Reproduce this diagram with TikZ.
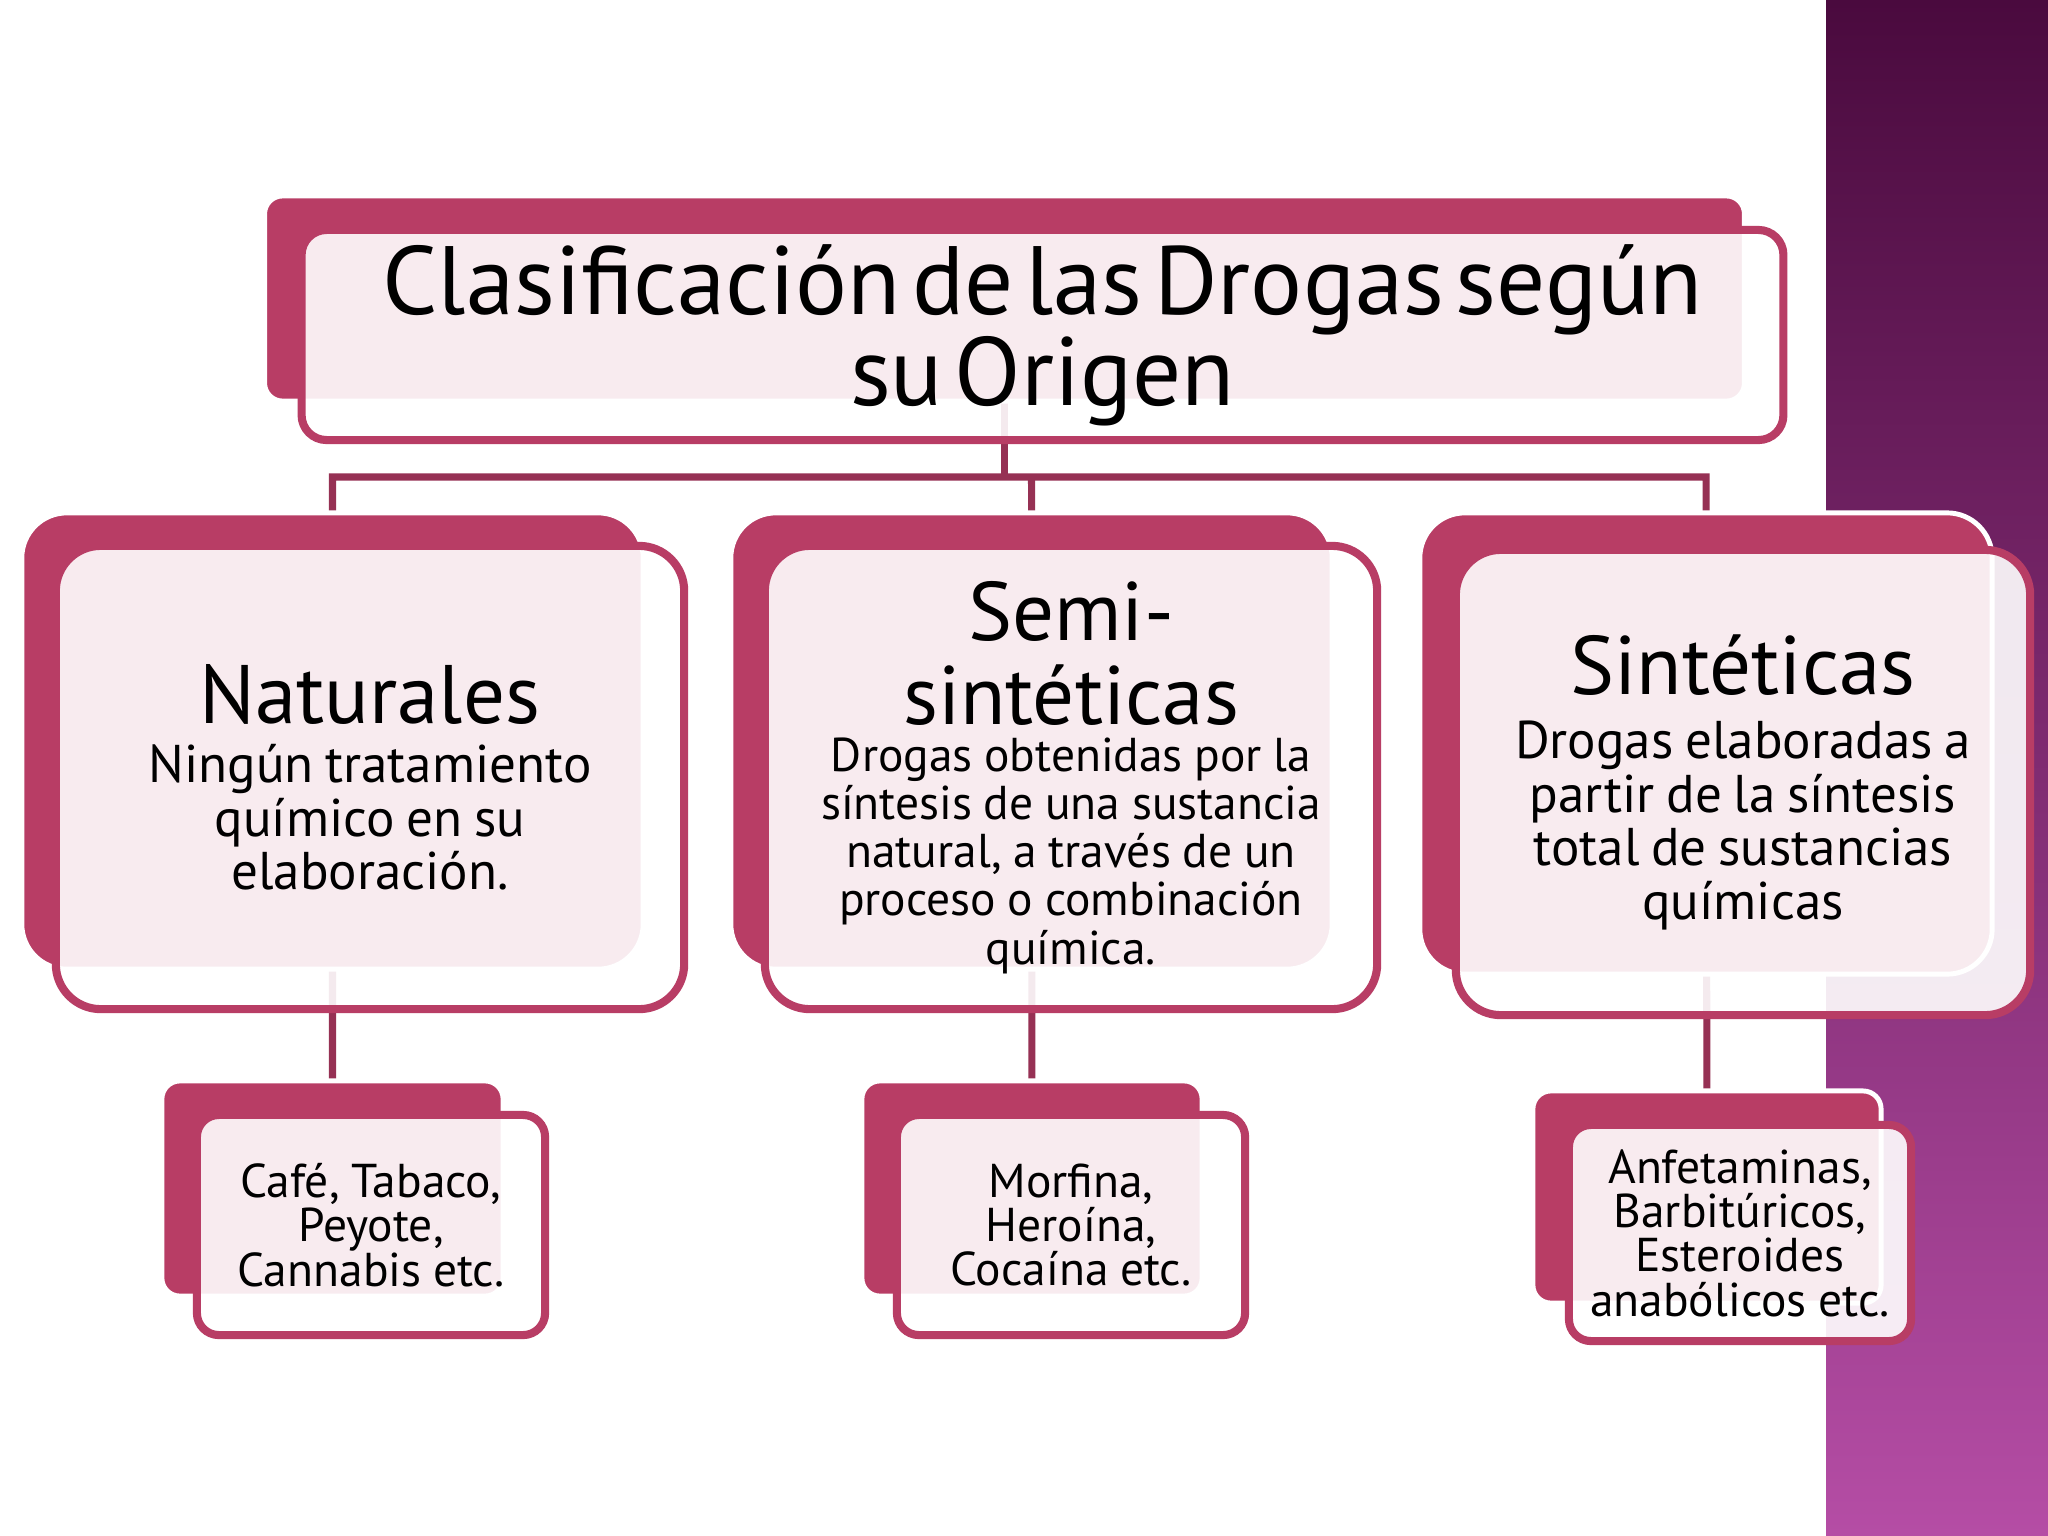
\documentclass[tikz,border=0pt]{standalone}
\usepackage{fontspec}
\setmainfont{PT Sans}[WordSpace=1.5]
\usepackage{tikz}
\usetikzlibrary{backgrounds}
\definecolor{drugpink}{HTML}{B83D65}
\definecolor{linkred}{HTML}{963154}
\definecolor{bandtop}{HTML}{4A0A3E}
\definecolor{bandmid}{HTML}{7E2C73}
\definecolor{bandbot}{HTML}{B54DA5}
\newcommand{\drugtitle}{\fontsize{27.6}{25.9}\selectfont}
\newcommand{\drughead}{\fontsize{23.6}{23.9}\selectfont}
\newcommand{\drugbody}{\fontsize{15.1}{15.2}\selectfont}
\newcommand{\drugsmall}{\fontsize{13.5}{13.7}\selectfont}
\newcommand{\drugleaf}{\fontsize{13.5}{12.6}\selectfont}
\setlength{\lineskiplimit}{-6pt}
\tikzset{
    back box/.style={
        fill=drugpink,draw=white,line width=1.4pt,inner sep=0pt
    },
    front box/.style={
        draw=drugpink,line width=2.3pt,
        fill=white,fill opacity=0.9,text opacity=1,
        align=center,inner sep=0pt
    },
    link/.style={draw=linkred,line width=2pt}
}

\begin{document}
\begin{tikzpicture}[x=0.01cm,y=-0.01cm]
\useasboundingbox (0,0) rectangle (2048,1536);
% title
\node[back box,rounded corners=0.18cm,minimum width=14.79cm,minimum height=2.05cm] (tback) at (1004.5,298.5) {};
\node[front box,rounded corners=0.25cm,minimum width=14.81cm,minimum height=2.10cm,text width=14cm] (title) at (1042.5,335)
    {\drugtitle Clasificación de las Drogas según\\ su Origen\par};
% second row
\node[back box,rounded corners=0.45cm,minimum width=6.21cm,minimum height=4.56cm] (nback) at (332.5,741) {};
\node[front box,rounded corners=0.45cm,minimum width=6.28cm,minimum height=4.63cm,text width=5.9cm] (nat) at (370,777.5)
    {{\drughead Naturales\par}\vspace{1.5pt}\drugbody Ningún tratamiento\\ químico en su\\ elaboración.\par};
\node[back box,rounded corners=0.45cm,minimum width=6.01cm,minimum height=4.56cm] (sback) at (1031.5,741) {};
\node[front box,rounded corners=0.45cm,minimum width=6.12cm,minimum height=4.63cm,text width=5.9cm] (semi) at (1071,777.5)
    {{\drughead Semi-\\ sintéticas\par}\vspace{-0.4pt}\drugsmall Drogas obtenidas por la\\ síntesis de una sustancia\\ natural, a través de un\\ proceso o combinación\\ química.\par};
\node[back box,rounded corners=0.45cm,minimum width=5.72cm,minimum height=4.61cm] (iback) at (1706,743.5) {};
\node[front box,rounded corners=0.45cm,minimum width=5.74cm,minimum height=4.65cm,text width=5.5cm] (sint) at (1743,782.5)
    {{\drughead Sintéticas\par}\vspace{3pt}\drugbody Drogas elaboradas a\\ partir de la síntesis\\ total de sustancias\\ químicas\par};
% third row
\node[back box,rounded corners=0.18cm,minimum width=3.41cm,minimum height=2.15cm] (cback) at (332.5,1188.5) {};
\node[front box,rounded corners=0.22cm,minimum width=3.48cm,minimum height=2.20cm,text width=3.4cm] (cafe) at (371,1225)
    {\drugleaf Café, Tabaco,\\ Peyote,\\ Cannabis etc.\par};
\node[back box,rounded corners=0.18cm,minimum width=3.40cm,minimum height=2.15cm] (mback) at (1032,1188.5) {};
\node[front box,rounded corners=0.22cm,minimum width=3.48cm,minimum height=2.20cm,text width=3.4cm] (morf) at (1071,1225)
    {\drugleaf Morfina,\\ Heroína,\\ Cocaína etc.\par};
\node[back box,rounded corners=0.18cm,minimum width=3.48cm,minimum height=2.12cm] (aback) at (1707,1197) {};
\node[front box,rounded corners=0.22cm,minimum width=3.42cm,minimum height=2.16cm,text width=3.4cm] (anf) at (1740,1233)
    {\drugleaf Anfetaminas,\\ Barbitúricos,\\ Esteroides\\ anabólicos etc.\par};
% backdrop and links
\begin{pgfonlayer}{background}
\fill[white] (0,0) rectangle (2048,1536);
\shade[top color=bandtop,middle color=bandmid,bottom color=bandbot] (1826,0) rectangle (2048,1536);
\coordinate (hub) at (1004.5,477);
\draw[link] (tback.center) -- (hub);
\draw[link] (cback.center) -- (hub -| nback) -- (hub -| iback) -- (aback.center);
\draw[link] (hub -| sback) -- (mback.center);
\end{pgfonlayer}
\end{tikzpicture}
\end{document}
